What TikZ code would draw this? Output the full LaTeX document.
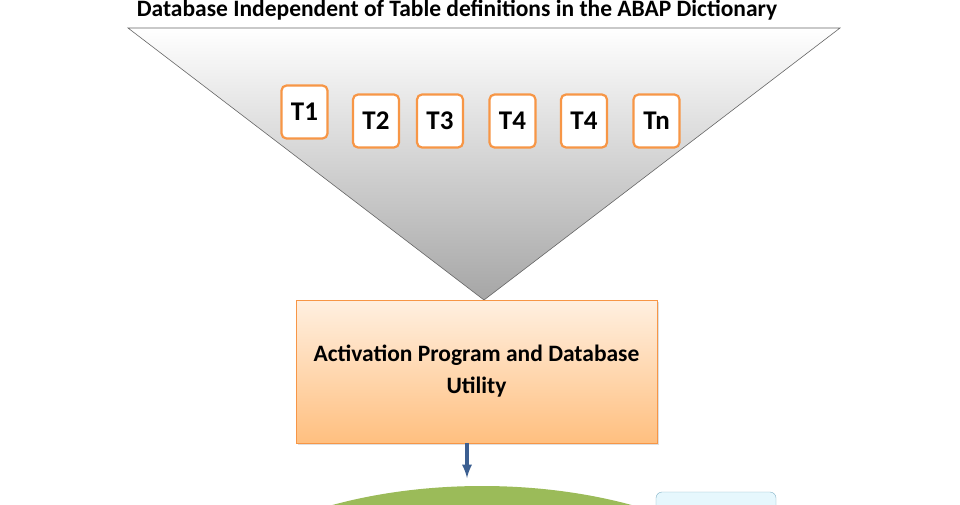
\documentclass[tikz,border=0pt]{standalone}
\usepackage{fontspec}
\setmainfont{Carlito}
\usetikzlibrary{shadows}
\definecolor{boxorange}{RGB}{247,150,70}
\definecolor{arrowblue}{RGB}{60,95,145}
\definecolor{dbgreen}{RGB}{155,187,89}
\tikzset{
	tbox/.style={draw=boxorange, line width=2.2pt, rounded corners=5pt, fill=white, minimum width=46pt, minimum height=53pt, font=\bfseries\fontsize{27}{30}\selectfont},
}
\begin{document}
\begin{tikzpicture}[x=1pt,y=-1pt]
	\useasboundingbox (0,0) rectangle (960,504);
	\clip (0,0) rectangle (960,504);
	
	\node [font=\bfseries\fontsize{23.5}{26}\selectfont] (TITLE) at (457,10) {Database Independent of Table definitions in the ABAP Dictionary};
	
	\shade [top color=white, bottom color=black!35, draw=black!60, line width=0.6pt] (128,28) -- (840,28) -- (484,300) -- cycle;
	
	\node [tbox] (T1) at (304.5,112) {T1};
	\node [tbox] (T2) at (376,121) {T2};
	\node [tbox] (T3) at (440,121) {T3};
	\node [tbox] (T4) at (512.5,121) {T4};
	\node [tbox] (T5) at (584,121) {T4};
	\node [tbox] (TN) at (656.5,121) {Tn};
	
	\node [draw=boxorange, line width=0.8pt, top color=orange!12, bottom color=orange!50, minimum width=361pt, minimum height=143pt, align=center, drop shadow={opacity=0.25}, font=\bfseries\fontsize{23.5}{32}\selectfont] (ACT) at (476.5,371.5) {Activation Program and Database\\Utility};
	
	\coordinate (ARROWEND) at (467,478);
	\draw [-latex, line width=3.5pt, draw=arrowblue] (ACT.south -| ARROWEND) -- (ARROWEND);
	
	\fill [dbgreen] (482,650) ellipse (320pt and 164pt);
	\node [draw=cyan!60!black!60, fill=cyan!10, rounded corners=6pt, minimum width=120pt, minimum height=60pt] (DB) at (716,522) {};
\end{tikzpicture}
\end{document}
